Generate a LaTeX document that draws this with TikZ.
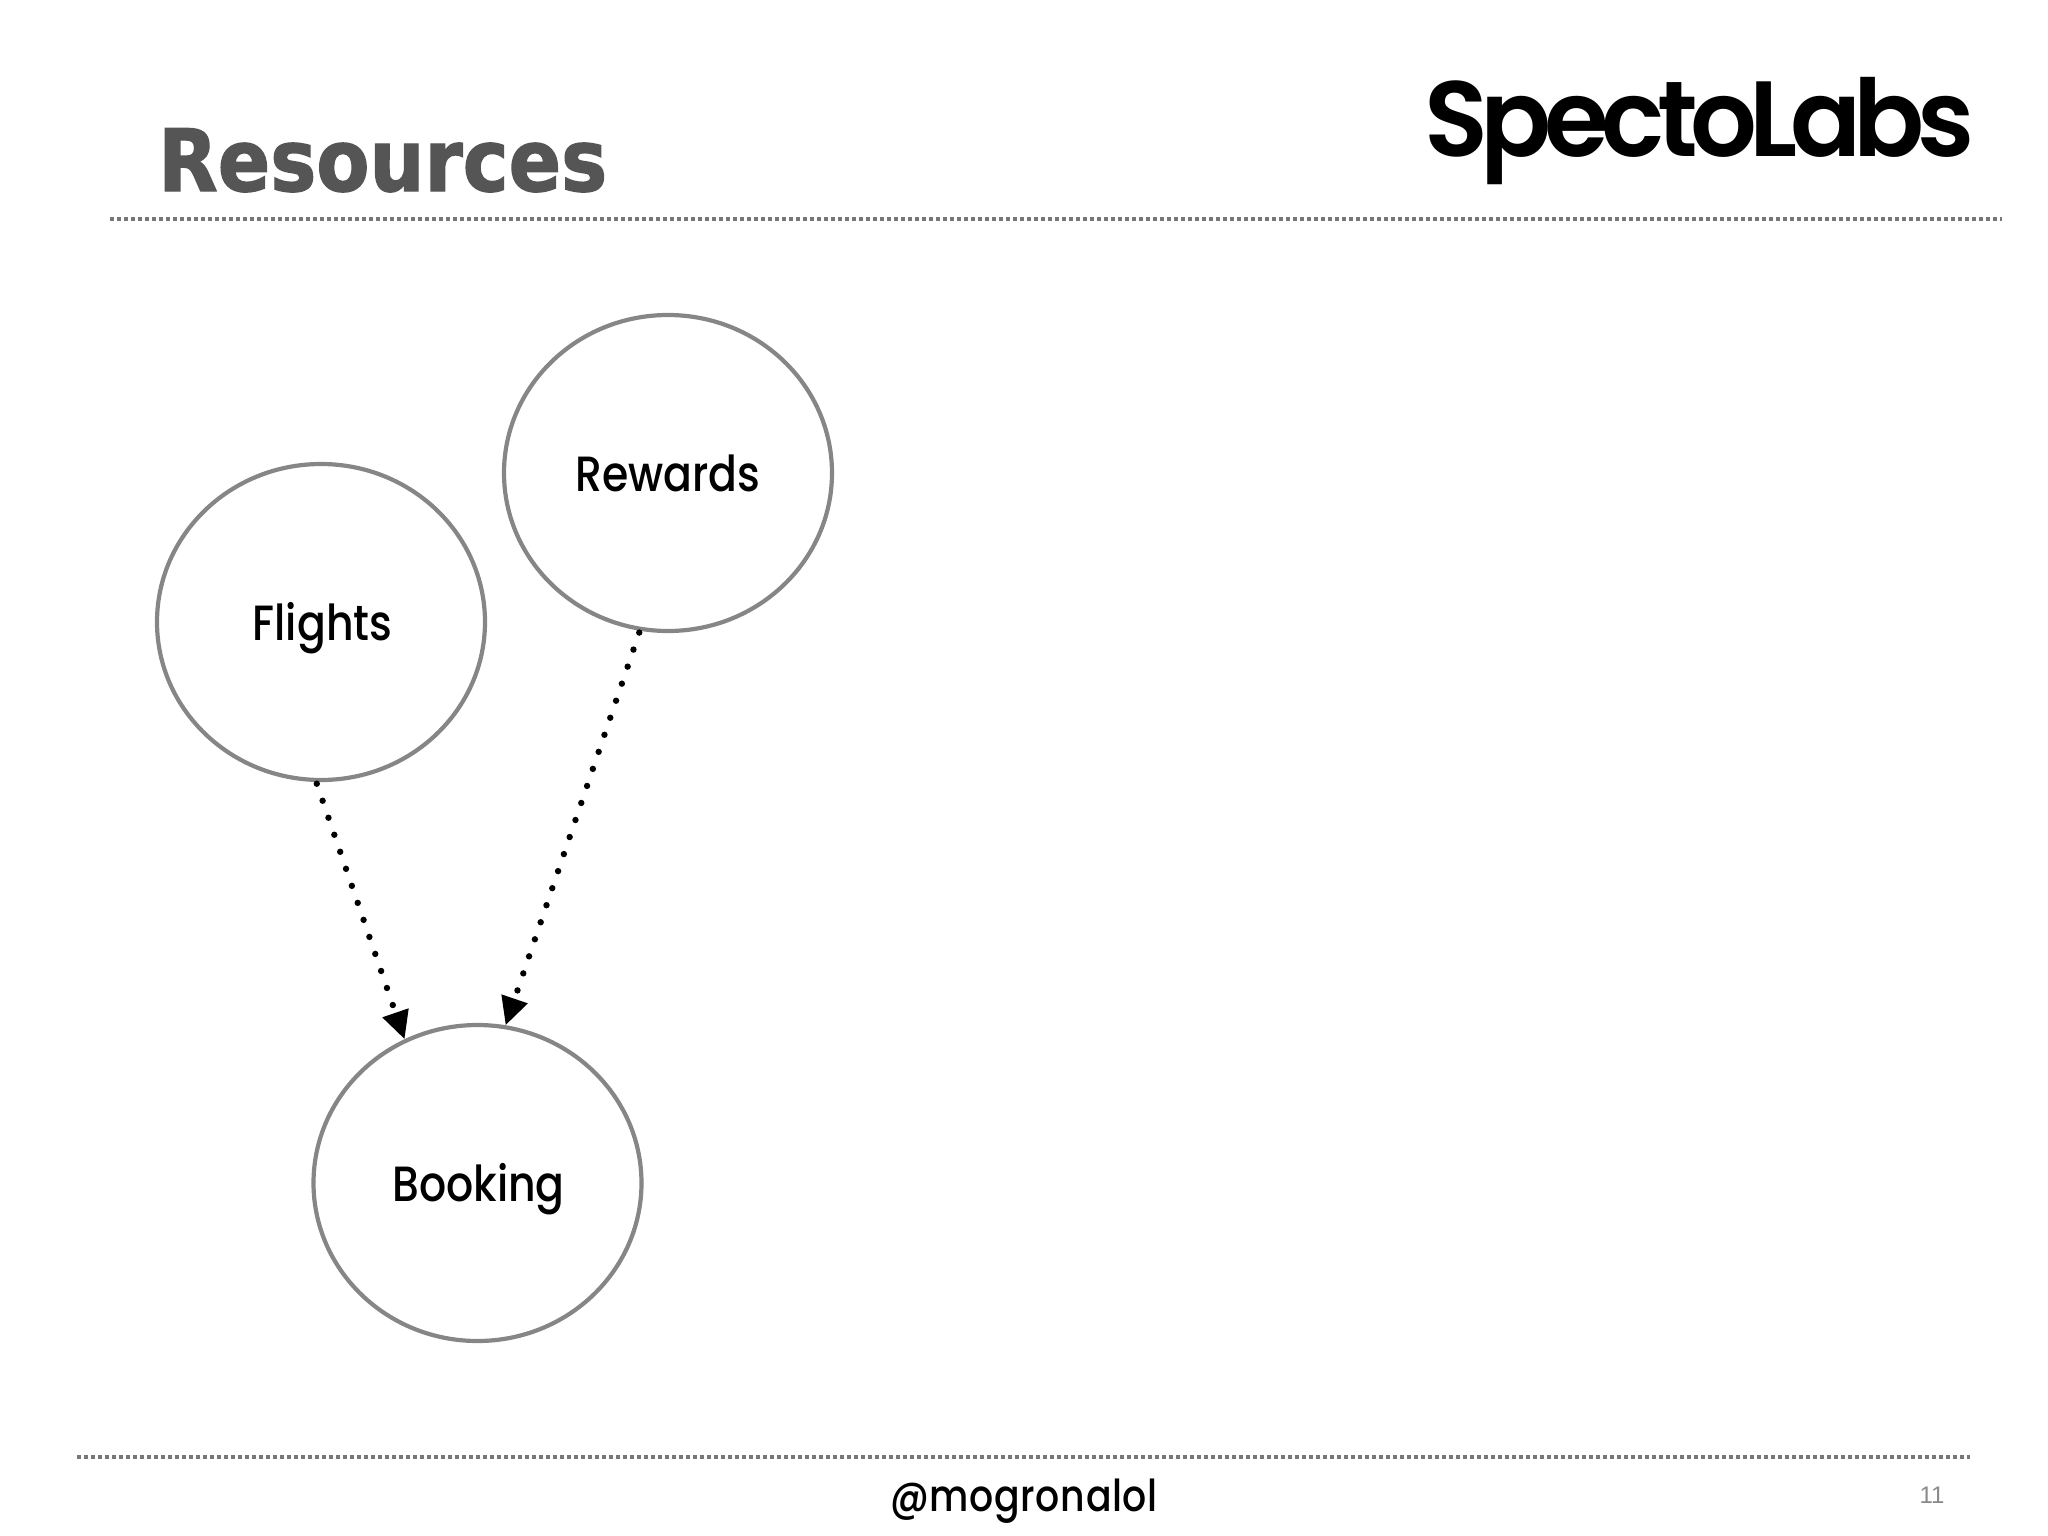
\documentclass[tikz,border=0pt]{standalone}
\usepackage{fontspec}
\usetikzlibrary{arrows.meta,shapes.geometric}
\newfontfamily\futfont[FakeStretch=0.86]{Poppins Medium}
\newfontfamily\handlefont[FakeStretch=0.86,LetterSpace=1.5]{Poppins Medium}
\newfontfamily\titlefont[FakeStretch=0.9,FakeBold=1.5]{DejaVu Sans Bold}
\newfontfamily\logofont[LetterSpace=-7,FakeStretch=0.98]{Poppins SemiBold}
\newfontfamily\numfont{Liberation Sans}
\definecolor{ringgray}{HTML}{868686}
\definecolor{titlegray}{HTML}{555555}
\definecolor{rulegray}{HTML}{777777}
\definecolor{numgray}{HTML}{8A8A8A}
\tikzset{
  resource/.style={draw=ringgray,line width=4.2pt,ellipse,minimum width=328pt,minimum height=316pt,inner sep=0pt,outer sep=0pt,text height=45pt,text depth=9pt,font=\futfont\fontsize{49.5}{56}\selectfont,text=black},
  depends/.style={line width=6.4pt,line cap=round,dash pattern=on 0pt off 18pt,draw=black,shorten <=4pt,shorten >=2pt,-{Triangle[length=28pt,width=26pt,fill=black]}},
  dotrule/.style={draw=rulegray,line width=4pt,dash pattern=on 4pt off 3pt},
}
\begin{document}
\begin{tikzpicture}[x=1pt,y=-1pt]
\useasboundingbox (0,0) rectangle (2048,1536);
\node[anchor=base west,inner sep=0pt,text=titlegray,font=\titlefont\fontsize{86}{90}\selectfont] (title) at (158,191) {Resources};
\node[anchor=base west,inner sep=0pt,text=black,font=\logofont\fontsize{107}{120}\selectfont] (logo) at (1424,157) {SpectoLabs};
\coordinate (hl) at (110,219);
\coordinate (hr) at (2002,219);
\draw[dotrule] (hl) -- (hr);
\coordinate (fl) at (77,1457);
\coordinate (fr) at (1970,1457);
\draw[dotrule] (fl) -- (fr);
\node[resource] (flights) at (321,622) {\hspace{3pt}Flights};
\node[resource] (rewards) at (668,473) {Rewards};
\node[resource] (booking) at (477.5,1183) {\hspace{2pt}Booking};
\draw[depends] (flights.268.8) -- (booking.117);
\draw[depends] (rewards.260.3) -- (booking.80);
\node[anchor=base,inner sep=0pt,text=black,font=\handlefont\fontsize{44}{54}\selectfont] (handle) at (1024,1511) {@mogronalol};
\node[anchor=base,inner sep=0pt,text=numgray,font=\numfont\fontsize{24}{28}\selectfont] (page) at (1932,1503) {11};
\end{tikzpicture}
\end{document}
